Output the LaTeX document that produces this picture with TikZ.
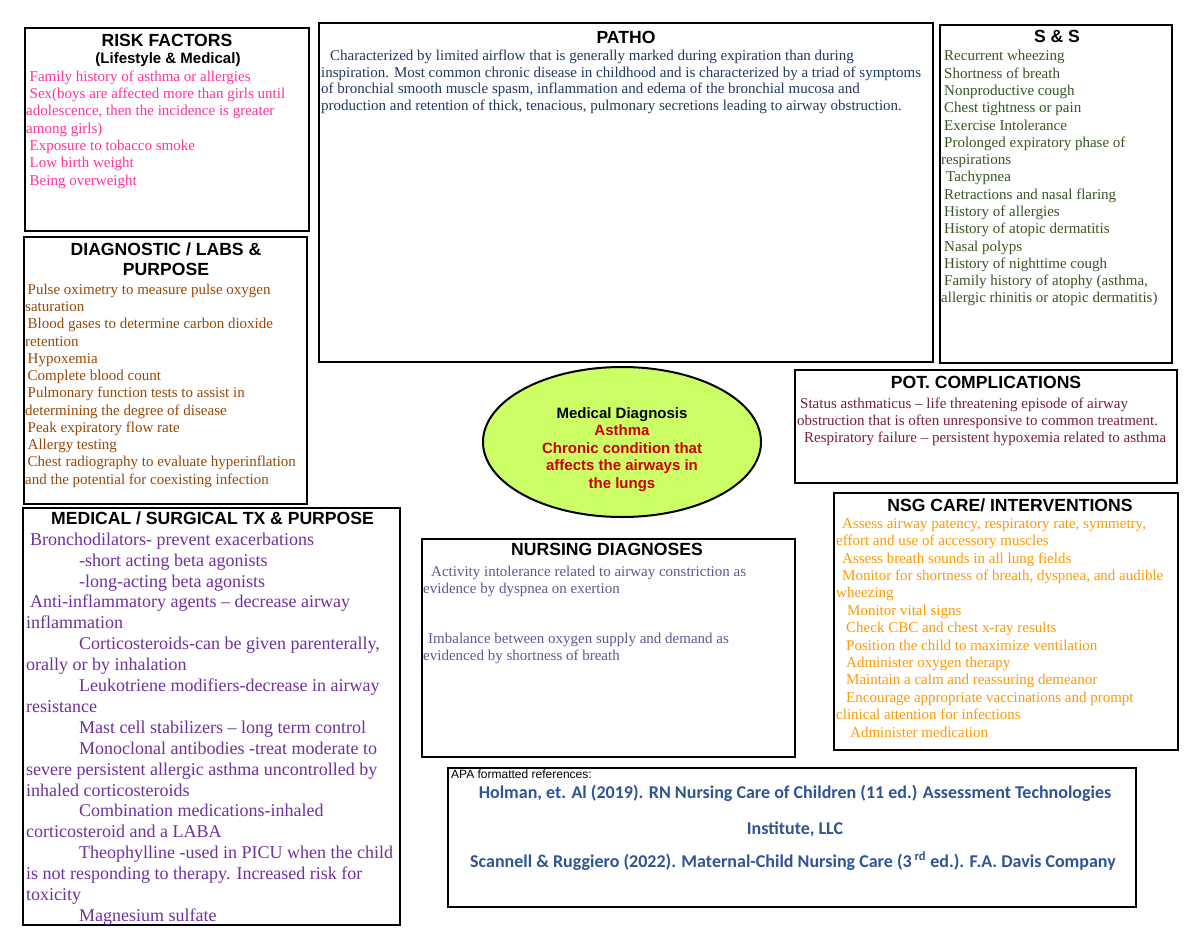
\documentclass[tikz,border=0pt]{standalone}
\usepackage{fontspec}
\setmainfont{Liberation Serif}
\newfontfamily\arial{Liberation Sans}
\newfontfamily\calib{Carlito}
\usetikzlibrary{shapes.geometric}
\definecolor{rfpink}{RGB}{255,51,153}
\definecolor{pathoblue}{RGB}{31,56,100}
\definecolor{ssgreen}{RGB}{56,86,35}
\definecolor{diagbrown}{RGB}{152,72,6}
\definecolor{potred}{RGB}{122,30,62}
\definecolor{medpurple}{RGB}{112,48,160}
\definecolor{nurseblue}{RGB}{90,90,150}
\definecolor{nsgorange}{RGB}{255,153,0}
\definecolor{refblue}{RGB}{47,84,150}
\definecolor{ellfill}{RGB}{204,255,102}
\definecolor{dxred}{RGB}{204,0,0}
\newcommand{\fs}[1]{\rule{0pt}{#1pt}}
\newcommand{\ind}[1]{\hspace*{#1pt}}
\begin{document}
\begin{tikzpicture}[x=1pt,y=-1pt,
  frame/.style={draw=black,line width=2pt,anchor=north west,inner sep=0pt,outer sep=0pt},
  hdr/.style={font=\arial\bfseries\fontsize{17.6}{22}\selectfont,anchor=base,inner sep=0pt,align=center},
  bodytxt/.style={font=\fontsize{15}{17.3}\selectfont,anchor=north west,inner sep=0pt,align=left},
  reftxt/.style={font=\calib\bfseries\fontsize{18}{21}\selectfont,text=refblue,anchor=base,inner sep=0pt},
 ]
\useasboundingbox[fill=white] (0,0) rectangle (1200,927);

% ---------- frames ----------
\node[frame,minimum width=284pt,minimum height=203pt] (risk) at (25,28) {};
\node[frame,minimum width=614pt,minimum height=339pt] (patho) at (319,23) {};
\node[frame,minimum width=232pt,minimum height=338pt] (ss) at (940,25) {};
\node[frame,minimum width=283pt,minimum height=267pt] (diag) at (24,237) {};
\node[frame,minimum width=382pt,minimum height=113pt] (pot) at (795,370) {};
\node[frame,minimum width=377pt,minimum height=417pt] (med) at (23,508) {};
\node[frame,minimum width=373pt,minimum height=218pt] (nurse) at (422,539) {};
\node[frame,minimum width=344pt,minimum height=257pt] (nsg) at (834,493) {};
\node[frame,minimum width=688pt,minimum height=139pt] (refs) at (448,768) {};

% ---------- medical diagnosis ellipse ----------
\node[ellipse,draw=black,line width=2pt,fill=ellfill,minimum width=278pt,minimum height=150pt,inner sep=0pt] (dx) at (622,442) {};
\node[font=\arial\bfseries\fontsize{15}{17.5}\selectfont,align=center,anchor=north,inner sep=0pt,text=dxred] (dxtxt) at (622,406)
 {\fs{12}\textcolor{black}{Medical Diagnosis}\\Asthma\\Chronic condition that\\affects the airways in\\the lungs};

% ---------- RISK FACTORS ----------
\node[hdr] (riskh) at (167,46) {RISK FACTORS};
\node[font=\arial\bfseries\fontsize{15}{17}\selectfont,anchor=base,inner sep=0pt] (riskh2) at (168,63) {(Lifestyle \& Medical)};
\node[bodytxt,text=rfpink] (riskb) at (26,68) {\fs{13}\ind{3.5}Family history of asthma or allergies\\
\ind{3.5}Sex(boys are affected more than girls until\\
adolescence, then the incidence is greater\\
among girls)\\
\ind{3.5}Exposure to tobacco smoke\\
\ind{3.5}Low birth weight\\
\ind{3.5}Being overweight};

% ---------- PATHO ----------
\node[hdr] (pathoh) at (626,43) {PATHO};
\node[bodytxt,font=\fontsize{15}{16.8}\selectfont,text=pathoblue] (pathob) at (321,47) {\fs{13}\ind{9}Characterized by limited airflow that is generally marked during expiration than during\\
inspiration. Most common chronic disease in childhood and is characterized by a triad of symptoms\\
of bronchial smooth muscle spasm, inflammation and edema of the bronchial mucosa and\\
production and retention of thick, tenacious, pulmonary secretions leading to airway obstruction.};

% ---------- S & S ----------
\node[hdr] (ssh) at (1057,42) {S \& S};
\node[bodytxt,font=\fontsize{15}{17.29}\selectfont,text=ssgreen] (ssb) at (941,47.7) {\fs{13}\ind{3}Recurrent wheezing\\
\ind{3}Shortness of breath\\
\ind{3}Nonproductive cough\\
\ind{3}Chest tightness or pain\\
\ind{3}Exercise Intolerance\\
\ind{3}Prolonged expiratory phase of\\
respirations\\
\ind{5}Tachypnea\\
\ind{3}Retractions and nasal flaring\\
\ind{3}History of allergies\\
\ind{3}History of atopic dermatitis\\
\ind{3}Nasal polyps\\
\ind{3}History of nighttime cough\\
\ind{3}Family history of atophy (asthma,\\
allergic rhinitis or atopic dermatitis)};

% ---------- DIAGNOSTIC ----------
\node[hdr] (diagh) at (166,255) {DIAGNOSTIC / LABS \&};
\node[hdr] (diagh2) at (166,275) {PURPOSE};
\node[bodytxt,font=\fontsize{15}{17.27}\selectfont,text=diagbrown] (diagb) at (25,281) {\fs{13}\ind{2.5}Pulse oximetry to measure pulse oxygen\\
saturation\\
\ind{2.5}Blood gases to determine carbon dioxide\\
retention\\
\ind{2.5}Hypoxemia\\
\ind{2.5}Complete blood count\\
\ind{2.5}Pulmonary function tests to assist in\\
determining the degree of disease\\
\ind{2.5}Peak expiratory flow rate\\
\ind{2.5}Allergy testing\\
\ind{2.5}Chest radiography to evaluate hyperinflation\\
and the potential for coexisting infection};

% ---------- POT. COMPLICATIONS ----------
\node[hdr] (poth) at (986,388) {POT. COMPLICATIONS};
\node[bodytxt,font=\fontsize{15}{17}\selectfont,text=potred] (potb) at (797,395) {\fs{13}\ind{3}Status asthmaticus – life threatening episode of airway\\
obstruction that is often unresponsive to common treatment.\\
\ind{7}Respiratory failure – persistent hypoxemia related to asthma};

% ---------- MEDICAL / SURGICAL ----------
\node[hdr] (medh) at (212.5,524) {MEDICAL / SURGICAL TX \& PURPOSE};
\node[bodytxt,font=\fontsize{18}{20.9}\selectfont,text=medpurple] (medb) at (26,529) {\fs{16}\ind{4}Bronchodilators- prevent exacerbations\\
\ind{53}-short acting beta agonists\\
\ind{53}-long-acting beta agonists\\
\ind{4}Anti-inflammatory agents – decrease airway\\
inflammation\\
\ind{53}Corticosteroids-can be given parenterally,\\
orally or by inhalation\\
\ind{53}Leukotriene modifiers-decrease in airway\\
resistance\\
\ind{53}Mast cell stabilizers – long term control\\
\ind{53}Monoclonal antibodies -treat moderate to\\
severe persistent allergic asthma uncontrolled by\\
inhaled corticosteroids\\
\ind{53}Combination medications-inhaled\\
corticosteroid and a LABA\\
\ind{53}Theophylline -used in PICU when the child\\
is not responding to therapy. Increased risk for\\
toxicity\\
\ind{53}Magnesium sulfate};

% ---------- NURSING DIAGNOSES ----------
\node[hdr] (nurseh) at (607,555) {NURSING DIAGNOSES};
\node[bodytxt,font=\fontsize{15}{16.8}\selectfont,text=nurseblue] (nurseb) at (423,563) {\fs{13}\ind{8}Activity intolerance related to airway constriction as\\
evidence by dyspnea on exertion\\[33.6pt]
\ind{5}Imbalance between oxygen supply and demand as\\
evidenced by shortness of breath};

% ---------- NSG CARE ----------
\node[hdr] (nsgh) at (1010,511) {NSG CARE/ INTERVENTIONS};
\node[bodytxt,font=\fontsize{15}{17.42}\selectfont,text=nsgorange] (nsgb) at (836,515) {\fs{13}\ind{6}Assess airway patency, respiratory rate, symmetry,\\
effort and use of accessory muscles\\
\ind{6}Assess breath sounds in all lung fields\\
\ind{6}Monitor for shortness of breath, dyspnea, and audible\\
wheezing\\
\ind{11}Monitor vital signs\\
\ind{10}Check CBC and chest x-ray results\\
\ind{10}Position the child to maximize ventilation\\
\ind{10}Administer oxygen therapy\\
\ind{10}Maintain a calm and reassuring demeanor\\
\ind{10}Encourage appropriate vaccinations and prompt\\
clinical attention for infections\\
\ind{14}Administer medication};

% ---------- REFERENCES ----------
\node[font=\arial\fontsize{12}{14}\selectfont,anchor=base west,inner sep=0pt] (apa) at (451,778) {APA formatted references:};
\node[reftxt] (ref1) at (795,798) {Holman, et. Al (2019). RN Nursing Care of Children (11 ed.) Assessment Technologies};
\node[reftxt] (ref2) at (795,834) {Institute, LLC};
\node[reftxt] (ref3) at (793,867) {Scannell \& Ruggiero (2022). Maternal-Child Nursing Care (3\,\textsuperscript{rd} ed.). F.A. Davis Company};
\end{tikzpicture}
\end{document}
